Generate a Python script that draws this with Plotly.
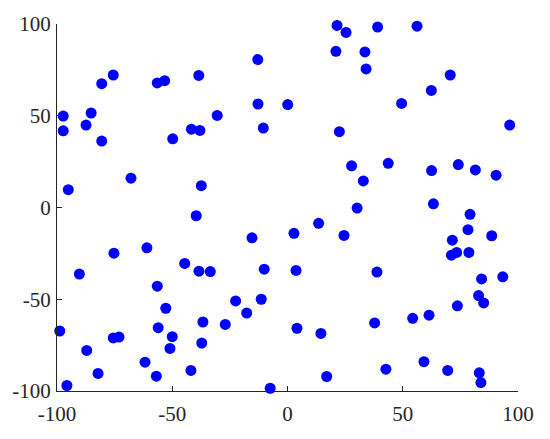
import plotly.graph_objects as go

# scatter points
x_vals = [
    -97.3, -97.3, -95.1, -87.4, -85.2, -80.6, -80.6, -75.6, -67.9, -56.5,
    -53.3, -49.8, -38.5, -41.7, -38.0, -30.5, -37.4, -39.6, -12.9, -12.8,
    -10.5, 0.1,
    21.5, 25.4, 39.1, 56.2, 21.0, 33.6, 34.1, 70.6, 62.4, 49.5,
    96.4, 22.5, 27.8, 43.7, 62.5, 74.1, 81.5, 90.5, 32.9,
    30.2, 63.3, 79.2, 13.5, 2.8, 24.5, 71.5, 78.3, 88.6, 71.1,
    73.4, 78.7, 3.7, 38.8, 84.2, 93.4, 82.9, 85.1, 73.7, 61.4,
    54.3, 37.8, 4.1, 14.5, 42.7, 59.2, 69.5, 83.2, 83.9, 17.0,
    -7.5,
    -15.4, -61.0, -75.3, -90.3, -44.6, -38.4, -33.5, -10.1, -56.5, -22.5,
    -11.4, -52.8, -17.7, -36.7, -27.0, -56.1, -98.8, -75.6, -73.1, -50.0,
    -51.0, -37.2, -87.1, -61.8, -82.2, -56.9, -41.9, -95.7,
]
y_vals = [
    49.8, 41.8, 9.7, 44.9, 51.5, 67.5, 36.2, 72.2, 16.0, 67.9,
    69.1, 37.4, 72.0, 42.7, 42.0, 50.2, 11.9, -4.5, 80.6, 56.4,
    43.3, 56.1,
    99.2, 95.4, 98.3, 98.8, 85.1, 84.8, 75.5, 72.2, 63.8, 56.7,
    44.9, 41.3, 22.7, 24.1, 20.1, 23.4, 20.5, 17.6, 14.5,
    -0.3, 2.0, -3.7, -8.6, -14.1, -15.2, -17.8, -12.1, -15.4, -26.0,
    -24.5, -24.5, -34.3, -35.2, -38.9, -37.8, -48.0, -52.0, -53.6, -58.7,
    -60.4, -62.9, -65.8, -68.6, -88.1, -84.0, -88.8, -90.1, -95.4, -92.1,
    -98.5,
    -16.5, -22.0, -24.9, -36.3, -30.5, -34.7, -34.9, -33.6, -42.9, -50.9,
    -50.0, -54.9, -57.5, -62.4, -63.7, -65.5, -67.3, -71.1, -70.6, -70.4,
    -76.8, -73.9, -77.9, -84.3, -90.4, -91.9, -88.8, -97.0,
]

tick_vals = [-100, -50, 0, 50, 100]
tick_text = ['-100', '-50', '0', '50', '100']

fig = go.Figure()
fig.add_trace(go.Scatter(
    x=x_vals, y=y_vals, mode='markers',
    marker=dict(color='#0000FF', size=11, line=dict(width=0)),
    cliponaxis=False,
))

axis_style = dict(
    range=[-100, 100], tickvals=tick_vals, ticktext=tick_text,
    ticks='inside', ticklen=5, tickcolor='#262626', tickwidth=1,
    showline=True, linecolor='#262626', linewidth=1,
    showgrid=False, zeroline=False, mirror=False, automargin=False,
    tickfont=dict(family='Liberation Serif', size=21, color='#262626'),
)

# the page body adds 8px, so margins are set 8px less on the left/top
fig.update_layout(
    width=550, height=439,
    margin=dict(l=49, r=40, t=16, b=56),
    plot_bgcolor='white', paper_bgcolor='white',
    showlegend=False,
    xaxis=dict(axis_style, ticklabelstandoff=4),
    yaxis=dict(axis_style, ticklabelstandoff=1),
)

fig.write_html("out.html")
